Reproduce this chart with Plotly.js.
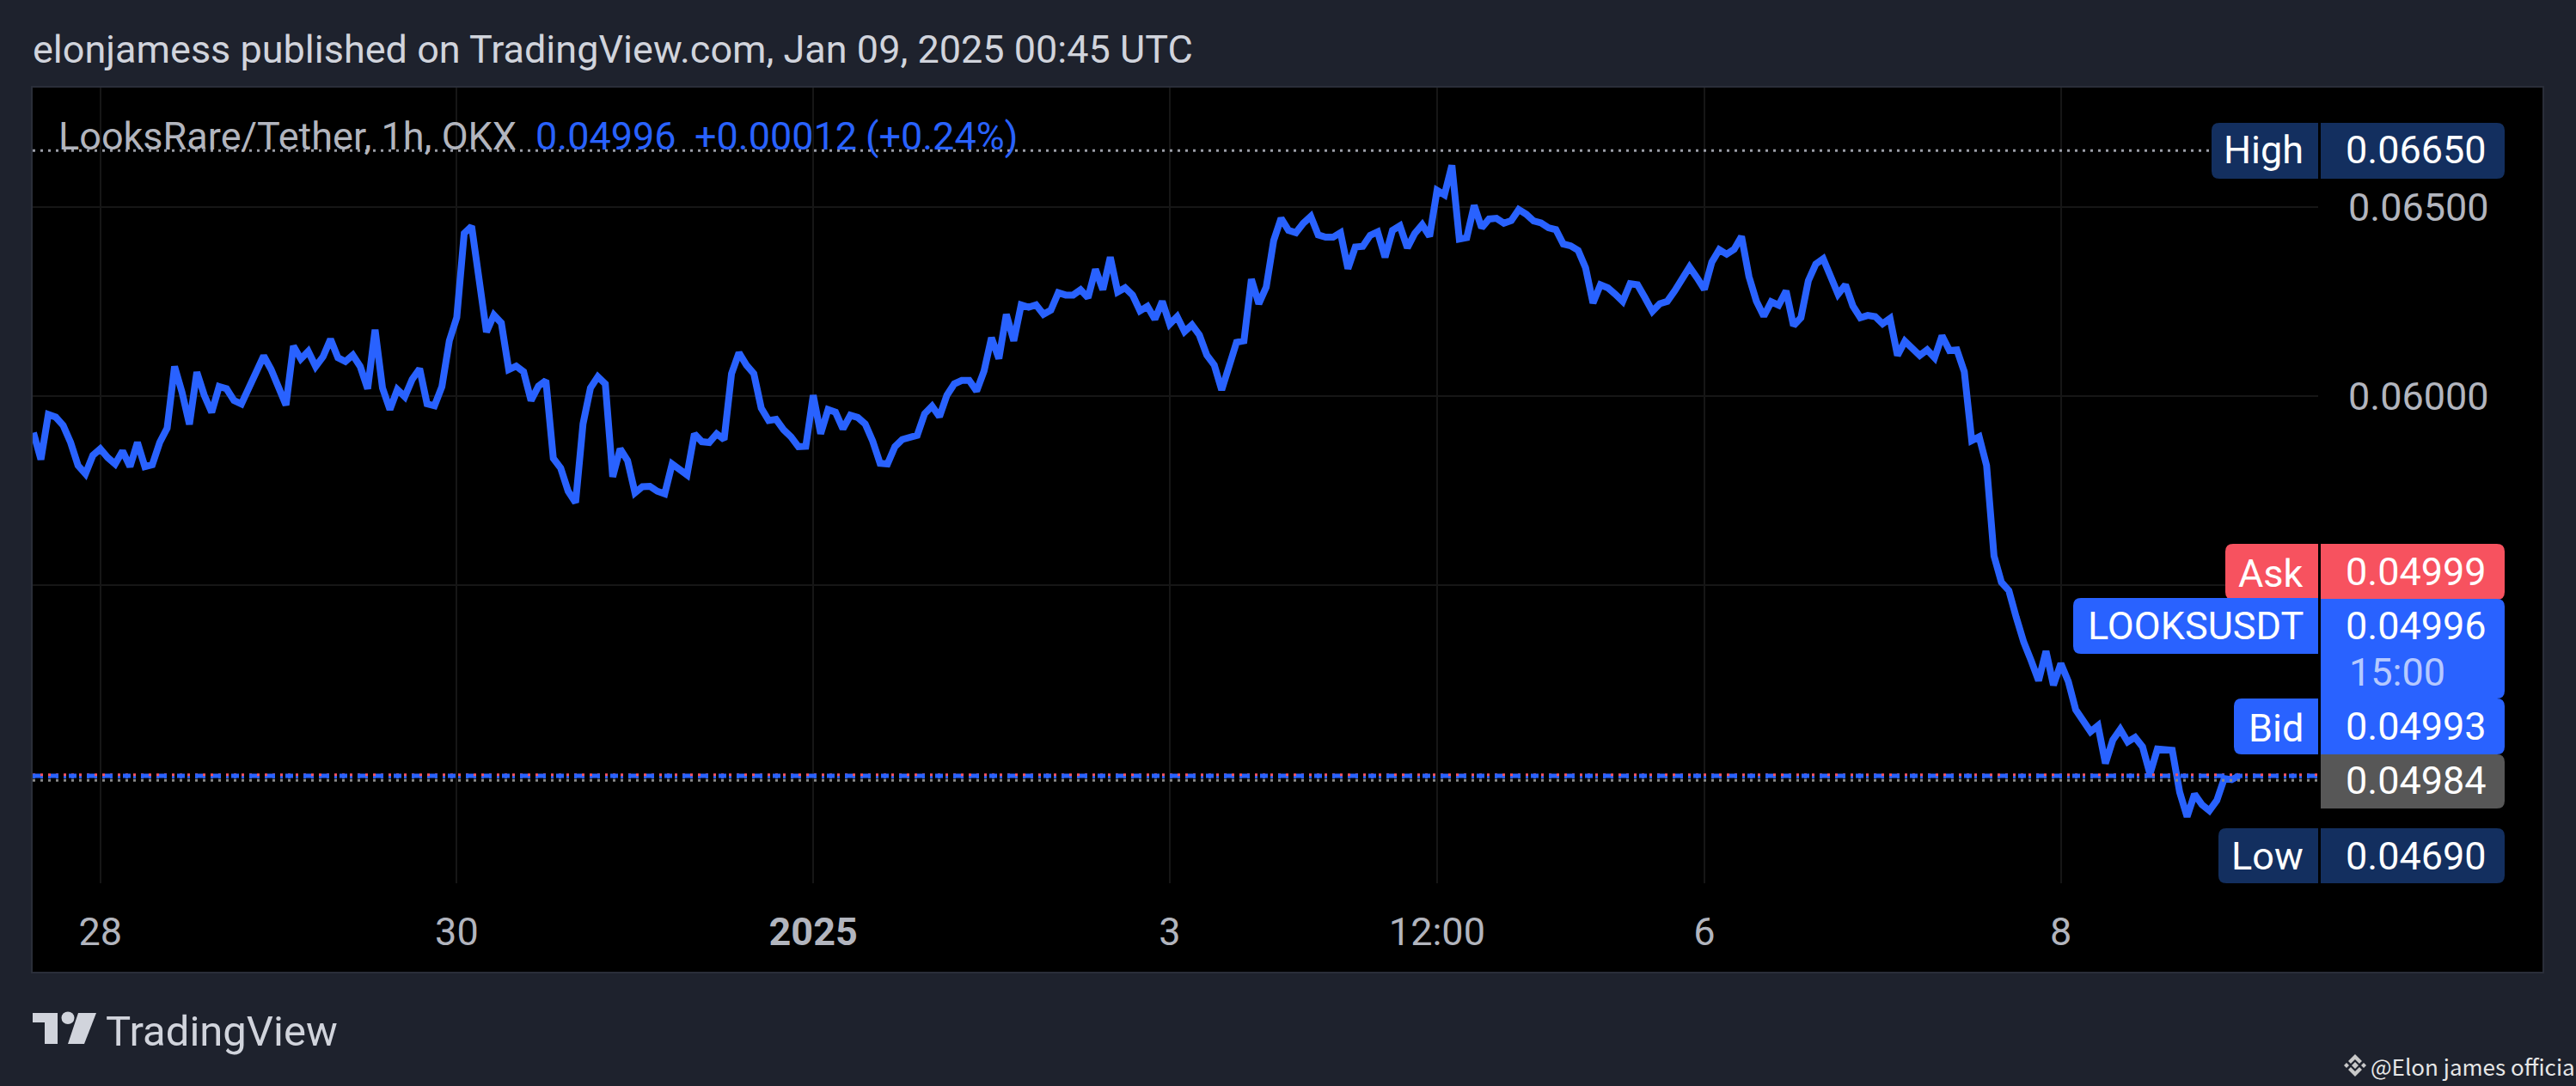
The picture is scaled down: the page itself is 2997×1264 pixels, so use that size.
<!DOCTYPE html>
<html>
<head>
<meta charset="utf-8">
<script src="https://cdn.plot.ly/plotly-3.0.1.min.js"></script>
<style>html,body{margin:0;padding:0;background:#1E222D;overflow:hidden}#chart{width:2997px;height:1264px}</style>
</head>
<body>
<div id="chart"></div>
<script>
// Hourly closes, LOOKS/USDT, from 2024-12-27 15:00 UTC to 2025-01-09 00:00 UTC
const firstHour = Date.UTC(2024, 11, 27, 15);
const closes = [
0.05904,0.05833,0.05952,0.05945,0.05923,0.05878,0.05817,0.05795,0.05844,
0.05861,0.05838,0.05821,0.05855,0.05814,0.05878,0.05814,0.05819,0.05878,0.05916,
0.06079,0.06011,0.05926,0.06064,0.06003,0.05958,0.06026,0.06020,0.05989,0.05980,
0.06026,0.06067,0.06107,0.06071,0.06018,0.05977,0.06133,0.06099,0.06119,0.06079,
0.06105,0.06151,0.06102,0.06092,0.06109,0.06079,0.06020,0.06176,0.06022,0.05965,
0.06018,0.05999,0.06045,0.06073,0.05980,0.05975,0.06026,0.06147,0.06209,0.06431,
0.06450,0.06298,0.06170,0.06215,0.06194,0.06071,0.06080,0.06065,0.05989,0.06027,
0.06042,0.05836,0.05810,0.05749,0.05719,0.05927,0.06022,0.06052,0.06033,0.05787,
0.05861,0.05830,0.05745,0.05761,0.05762,0.05749,0.05742,0.05821,0.05806,0.05792,
0.05901,0.05880,0.05878,0.05901,0.05886,0.06060,0.06115,0.06083,0.06060,0.05969,
0.05936,0.05939,0.05912,0.05893,0.05867,0.05868,0.06003,0.05901,0.05965,0.05958,
0.05914,0.05950,0.05944,0.05927,0.05882,0.05823,0.05821,0.05867,0.05886,0.05891,
0.05897,0.05954,0.05974,0.05946,0.06003,0.06033,0.06042,0.06042,0.06014,0.06067,
0.06155,0.06100,0.06217,0.06147,0.06242,0.06236,0.06242,0.06217,0.06228,0.06274,
0.06268,0.06268,0.06282,0.06261,0.06336,0.06282,0.06368,0.06276,0.06287,0.06268,
0.06226,0.06238,0.06204,0.06251,0.06191,0.06211,0.06171,0.06189,0.06162,0.06109,
0.06083,0.06017,0.06086,0.06143,0.06147,0.06310,0.06245,0.06289,0.06412,0.06471,
0.06439,0.06433,0.06458,0.06476,0.06427,0.06421,0.06421,0.06433,0.06338,0.06395,
0.06397,0.06426,0.06435,0.06368,0.06439,0.06451,0.06393,0.06431,0.06454,0.06423,
0.06545,0.06533,0.06611,0.06416,0.06420,0.06505,0.06446,0.06469,0.06471,0.06458,
0.06465,0.06494,0.06482,0.06464,0.06459,0.06446,0.06441,0.06403,0.06398,0.06386,
0.06340,0.06247,0.06295,0.06287,0.06270,0.06251,0.06298,0.06295,0.06261,0.06225,
0.06245,0.06251,0.06279,0.06314,0.06342,0.06314,0.06283,0.06355,0.06388,0.06376,
0.06389,0.06423,0.06317,0.06252,0.06212,0.06250,0.06241,0.06279,0.06187,0.06208,
0.06306,0.06350,0.06364,0.06317,0.06270,0.06295,0.06239,0.06208,0.06214,0.06211,
0.06192,0.06206,0.06108,0.06146,0.06127,0.06108,0.06123,0.06102,0.06160,0.06121,
0.06123,0.06065,0.05883,0.05893,0.05817,0.05578,0.05508,0.05486,0.05415,0.05350,
0.05301,0.05248,0.05326,0.05236,0.05293,0.05246,0.05171,0.05145,0.05113,0.05129,
0.05029,0.05091,0.05119,0.05086,0.05098,0.05073,0.05001,0.05067,0.05064,0.05064,
0.04953,0.04888,0.04948,0.04920,0.04904,0.04931,0.04989,0.04986,0.04996
];
const hours = closes.map((_, i) => new Date(firstHour + i * 3600e3).toISOString());

const priceTicks = [0.055, 0.06, 0.065];
const priceTickText = ['', '0.06000', '0.06500'];
const timeTicks = ['2024-12-28', '2024-12-30', '2025-01-01', '2025-01-03', '2025-01-04 12:00', '2025-01-06', '2025-01-08'];
const timeTickText = ['28', '30', '<b>2025</b>', '3', '12:00', '6', '8'];

const highPrice = 0.0665, askPrice = 0.04999, lastPrice = 0.04996, bidPrice = 0.04993, prePrice = 0.04984;

const W = 2997, H = 1264;
const PL = 38, PR = 2697, PT = 102, PB = 1028;
const px = x => (x - PL) / (PR - PL);
const py = y => (PB - y) / (PB - PT);

const BLUE = '#2962FF', RED = '#F7525F', NAVY = '#132F5F', GREY = '#575757', TICK = '#B2B5BE', BG = '#1E222D';

function tag(x0, y0, x1, y1, rl, rr, color) {
  const X = v => px(v).toFixed(6), Y = v => py(v).toFixed(6);
  const path = `M${X(x0 + rl)},${Y(y0)} L${X(x1 - rr)},${Y(y0)} Q${X(x1)},${Y(y0)} ${X(x1)},${Y(y0 + rr)} ` +
    `L${X(x1)},${Y(y1 - rr)} Q${X(x1)},${Y(y1)} ${X(x1 - rr)},${Y(y1)} L${X(x0 + rl)},${Y(y1)} ` +
    `Q${X(x0)},${Y(y1)} ${X(x0)},${Y(y1 - rl)} L${X(x0)},${Y(y0 + rl)} Q${X(x0)},${Y(y0)} ${X(x0 + rl)},${Y(y0)} Z`;
  return {type: 'path', xref: 'paper', yref: 'paper', path, fillcolor: color, line: {width: 0}, layer: 'above'};
}
function poly(pts, color) {
  const path = pts.map((p, i) => (i ? 'L' : 'M') + px(p[0]).toFixed(6) + ',' + py(p[1]).toFixed(6)).join(' ') + ' Z';
  return {type: 'path', xref: 'paper', yref: 'paper', path, fillcolor: color, line: {width: 0}, layer: 'above'};
}
function priceLine(y, color, xEnd, width, dash) {
  return {type: 'line', xref: 'paper', yref: 'y', x0: 0, x1: px(xEnd), y0: y, y1: y,
    line: {color, width: width || 3, dash: dash || '3px,6px'}, layer: 'above'};
}
function box(x0, y0, x1, y1, color, lineColor) {
  return {type: 'rect', xref: 'paper', yref: 'paper', x0: px(x0), x1: px(x1), y0: py(y1), y1: py(y0),
    fillcolor: color, line: lineColor ? {color: lineColor, width: 2} : {width: 0}, layer: 'below'};
}
function txt(text, x, y, size, color, anchor, family) {
  return {text, x: px(x), y: py(y), xref: 'paper', yref: 'paper', xanchor: anchor || 'left', yanchor: 'middle',
    showarrow: false, borderpad: 0, font: {family: family || 'Roboto', size, color}};
}

const LOGO = '#D1D4DC', BN = '#C9C9C9';
const shapes = [
  box(37, 101, 2959, 1132, '#000000', '#2A2E39'),
  priceLine(highPrice, '#9A9DA6', 2572),
  priceLine(prePrice, '#8A8A8A', 2697),
  priceLine(bidPrice, BLUE, 2697),
  priceLine(askPrice, RED, 2697),
  priceLine(lastPrice, BLUE, 2697, 5, '9px,12px'),
  tag(2573, 143, 2697, 208, 9, 0, NAVY), tag(2700, 143, 2914, 208, 0, 9, NAVY),
  tag(2700, 878, 2914, 941, 0, 9, GREY),
  tag(2589, 633, 2697, 698, 9, 0, RED), tag(2700, 633, 2914, 698, 0, 9, RED),
  tag(2412, 696, 2697, 761, 9, 0, BLUE), tag(2700, 697, 2914, 813, 0, 9, BLUE),
  tag(2599, 813, 2697, 878, 9, 0, BLUE), tag(2700, 813, 2914, 878, 0, 9, BLUE),
  tag(2581, 964, 2697, 1028, 9, 0, NAVY), tag(2700, 964, 2914, 1028, 0, 9, NAVY),
  // TradingView mark
  poly([[38,1179],[67,1179],[67,1215],[52,1215],[52,1190],[38,1190]], LOGO),
  {type:'circle', xref:'paper', yref:'paper', x0:px(71.5), x1:px(86.5), y0:py(1192), y1:py(1177.5), fillcolor:LOGO, line:{width:0}, layer:'above'},
  poly([[91,1179],[112,1179],[98,1215],[79,1215]], LOGO),
  // Binance mark
  poly([[2740,1227],[2748,1235],[2745,1238],[2740,1233],[2735,1238],[2732,1235]], BN),
  poly([[2740,1253],[2748,1245],[2745,1242],[2740,1247],[2735,1242],[2732,1245]], BN),
  poly([[2740,1236],[2744,1240],[2740,1244],[2736,1240]], BN),
  poly([[2730,1237],[2733,1240],[2730,1243],[2727,1240]], BN),
  poly([[2750,1237],[2753,1240],[2750,1243],[2747,1240]], BN)
];

const annotations = [
  txt('elonjamess published on TradingView.com, Jan 09, 2025 00:45 UTC', 37, 58, 45, '#D1D4DC'),
  txt('LooksRare/Tether, 1h, OKX', 67, 159, 45, TICK),
  txt('0.04996', 622, 159, 45, BLUE),
  txt('+0.00012', 807, 159, 45, BLUE),
  txt('(+0.24%)', 1006, 159, 45, BLUE),
  txt('High', 2681, 175, 45, '#FFFFFF', 'right'),
  txt('0.06650', 2894, 175, 45, '#FFFFFF', 'right'),
  txt('Ask', 2681, 667, 45, '#FFFFFF', 'right'),
  txt('0.04999', 2894, 665, 45, '#FFFFFF', 'right'),
  txt('LOOKSUSDT', 2681, 728, 45, '#FFFFFF', 'right'),
  txt('0.04996', 2894, 728, 45, '#FFFFFF', 'right'),
  txt('15:00', 2732, 782, 45, 'rgba(255,255,255,0.68)'),
  txt('Bid', 2681, 847, 45, '#FFFFFF', 'right'),
  txt('0.04993', 2894, 845, 45, '#FFFFFF', 'right'),
  txt('0.04984', 2894, 908, 45, '#FFFFFF', 'right'),
  txt('Low', 2681, 996, 45, '#FFFFFF', 'right'),
  txt('0.04690', 2894, 996, 45, '#FFFFFF', 'right'),
  txt('TradingView', 122, 1200, 49, '#D1D4DC'),
  txt('@Elon james official', 2757, 1240, 26, '#E6E6E6', 'left', 'Noto Sans CJK SC')
];

const trace = {
  type: 'scatter', mode: 'lines', x: hours, y: closes,
  line: {color: BLUE, width: 8, shape: 'linear'},
  hoverinfo: 'skip', showlegend: false
};
const t0 = Date.UTC(2024, 11, 28);
const msPerPx = 3600e3 / 8.64;
const layout = {
  width: W, height: H, autosize: false, showlegend: false,
  paper_bgcolor: BG, plot_bgcolor: '#000000',
  margin: {l: PL, r: W - PR, t: PT, b: H - PB, pad: 0, autoexpand: false},
  xaxis: {
    type: 'date',
    range: [new Date(t0 + (PL - 116.7) * msPerPx).toISOString(), new Date(t0 + (PR - 116.7) * msPerPx).toISOString()],
    tickmode: 'array', tickvals: timeTicks, ticktext: timeTickText,
    showgrid: true, gridcolor: '#161616', gridwidth: 2, zeroline: false, showline: false, ticks: '',
    tickfont: {family: 'Roboto', size: 45, color: TICK}, ticklabelstandoff: 26, automargin: false, fixedrange: true
  },
  yaxis: {
    type: 'linear', side: 'right',
    range: [0.06 - (PB - 461.3) / 44000, 0.06 + (461.3 - PT) / 44000],
    tickmode: 'array', tickvals: priceTicks, ticktext: priceTickText,
    showgrid: true, gridcolor: '#161616', gridwidth: 2, zeroline: false, showline: false, ticks: '',
    tickfont: {family: 'Roboto', size: 45, color: TICK}, ticklabelstandoff: 34, automargin: false, fixedrange: true
  },
  shapes, annotations
};
Plotly.newPlot('chart', [trace], layout, {displayModeBar: false, responsive: false});
</script>
</body>
</html>
